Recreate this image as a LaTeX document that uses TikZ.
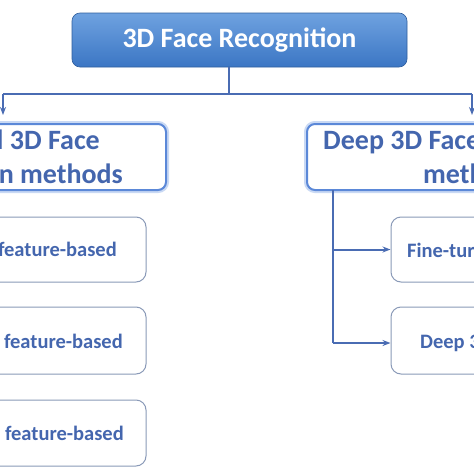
\documentclass[tikz,border=0pt]{standalone}
\usepackage{fontspec}
\setmainfont{Carlito}
\usetikzlibrary{arrows.meta}
\definecolor{txtblue}{HTML}{4466AE}
\definecolor{lineblue}{HTML}{4A6CB3}
\definecolor{midborder}{HTML}{5B88D8}
\definecolor{glow}{HTML}{C9D9F4}
\definecolor{childborder}{HTML}{8A9AB8}
\definecolor{ttop}{HTML}{6FA2E0}
\definecolor{tbot}{HTML}{3B76C4}
\tikzset{
  titlebox/.style={rounded corners=8pt, top color=ttop, bottom color=tbot, draw=tbot!80!black, line width=0.6pt},
  midbox/.style={rounded corners=8pt, draw=midborder, line width=2pt, fill=white,
    preaction={draw=glow, line width=6pt}},
  childbox/.style={rounded corners=10pt, draw=childborder, line width=1pt, fill=white},
  conn/.style={draw=lineblue, line width=2pt},
  arr/.style={conn, -{Stealth[length=8pt,width=6pt]}},
  midtxt/.style={font=\fontsize{28}{32}\selectfont\bfseries, text=txtblue, inner sep=0pt, anchor=base west},
  childtxt/.style={font=\fontsize{20.5}{24}\selectfont\bfseries, text=txtblue, inner sep=0pt, anchor=base west},
}
\begin{document}
\begin{tikzpicture}[x=1pt,y=-1pt]
\useasboundingbox (0,0) rectangle (474,474);
\fill[white] (0,0) rectangle (474,474);
\clip (0,0) rectangle (474,474);
% title
\node[titlebox, minimum width=335pt, minimum height=54pt, text=white,
  font=\fontsize{28}{32}\selectfont\bfseries] (title) at (239.5,40) {3D Face Recognition};
% mid boxes
\node[midbox, minimum width=326pt, minimum height=66pt] (left) at (3,157) {};
\node[midbox, minimum width=330pt, minimum height=66pt] (right) at (472,157) {};
\node[midtxt, anchor=base east] (lt1) at (100,149) {l 3D Face};
\node[midtxt, anchor=base east] (lt2) at (123,183) {n methods};
\node[midtxt] (rt1) at (323,149) {Deep 3D Face};
\node[midtxt] (rt2) at (423,183) {meth};
% left children
\node[childbox, minimum width=300pt, minimum height=65pt] (c1) at (-4,249.5) {};
\node[childbox, minimum width=300pt, minimum height=67pt] (c2) at (-4,340.5) {};
\node[childbox, minimum width=300pt, minimum height=66pt] (c3) at (-4,433) {};
\node[childtxt, anchor=base east] (c1t) at (117,256) {feature-based};
\node[childtxt, anchor=base east] (c2t) at (123,348) {feature-based};
\node[childtxt, anchor=base east] (c3t) at (124,440) {feature-based};
% right children
\node[childbox, minimum width=300pt, minimum height=65pt] (d1) at (541,249.5) {};
\node[childbox, minimum width=300pt, minimum height=67pt] (d2) at (541,340.5) {};
\node[childtxt] (d1t) at (407,257) {Fine-tur};
\node[childtxt] (d2t) at (420,348) {Deep 3};
% connectors
\coordinate (j) at (229,94);
\coordinate (jl) at (3,94);
\coordinate (jr) at (472,94);
\coordinate (rv) at (333,190);
\coordinate (rb1) at (333,249.5);
\coordinate (rb2) at (333,343);
\draw[conn] (j |- title.south) -- (j);
\draw[conn] (jl) -- (jr);
\draw[arr, shorten >=8pt] (jl) -- (left.north);
\draw[arr, shorten >=8pt] (jr) -- (right.north);
\draw[conn] (rv) -- (rb2);
\draw[arr] (rb1) -- (d1.west);
\draw[arr] (rb2) -- (d2.west |- rb2);
\end{tikzpicture}
\end{document}
